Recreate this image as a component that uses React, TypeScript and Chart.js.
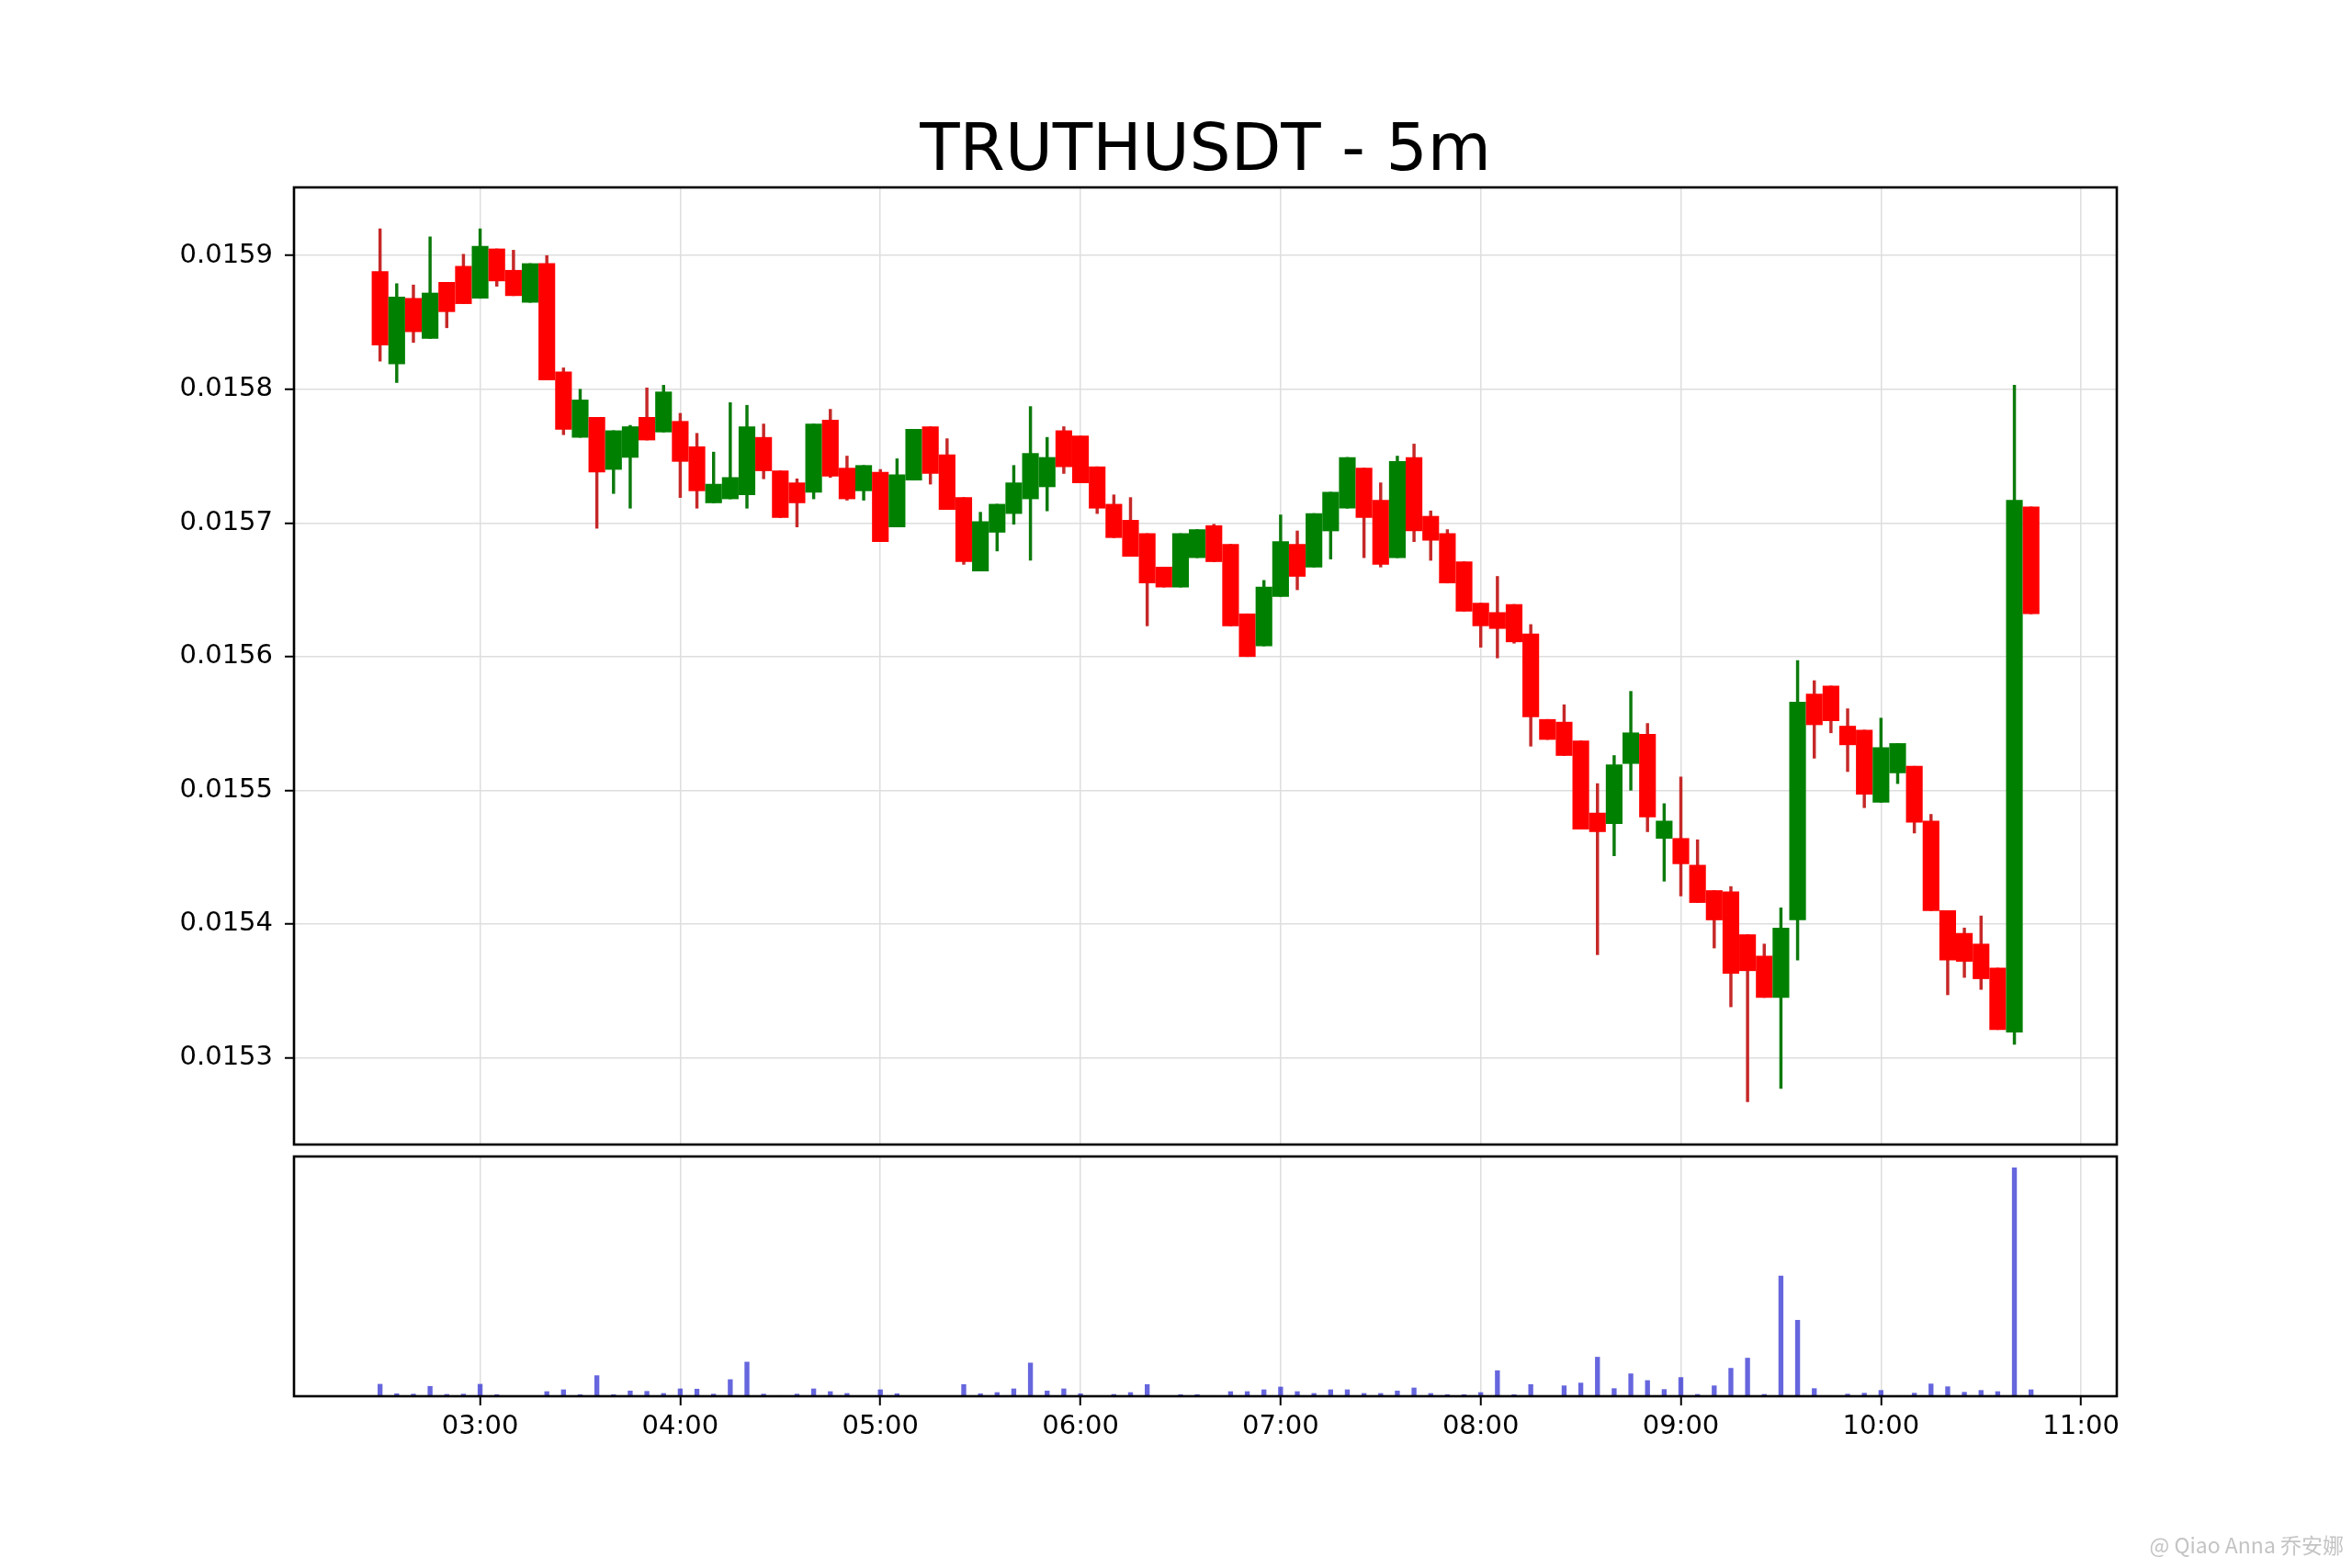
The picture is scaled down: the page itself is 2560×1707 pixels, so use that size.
import { useEffect, useRef } from "react";
import { Chart, Plugin, registerables } from "chart.js";

Chart.register(...registerables);

// 5m candles, 02:30 .. 10:45
const times = [
  "02:30", "02:35", "02:40", "02:45", "02:50", "02:55",
  "03:00", "03:05", "03:10", "03:15", "03:20", "03:25", "03:30", "03:35", "03:40", "03:45", "03:50", "03:55",
  "04:00", "04:05", "04:10", "04:15", "04:20", "04:25", "04:30", "04:35", "04:40", "04:45", "04:50", "04:55",
  "05:00", "05:05", "05:10", "05:15", "05:20", "05:25", "05:30", "05:35", "05:40", "05:45", "05:50", "05:55",
  "06:00", "06:05", "06:10", "06:15", "06:20", "06:25", "06:30", "06:35", "06:40", "06:45", "06:50", "06:55",
  "07:00", "07:05", "07:10", "07:15", "07:20", "07:25", "07:30", "07:35", "07:40", "07:45", "07:50", "07:55",
  "08:00", "08:05", "08:10", "08:15", "08:20", "08:25", "08:30", "08:35", "08:40", "08:45", "08:50", "08:55",
  "09:00", "09:05", "09:10", "09:15", "09:20", "09:25", "09:30", "09:35", "09:40", "09:45", "09:50", "09:55",
  "10:00", "10:05", "10:10", "10:15", "10:20", "10:25", "10:30", "10:35", "10:40", "10:45",
];

const opens = [
  0.015888, 0.015819, 0.015868, 0.015838, 0.01588, 0.015892, 0.015868, 0.015905, 0.015889, 0.015865,
  0.015894, 0.015813, 0.015764, 0.015779, 0.01574, 0.015749, 0.015779, 0.015768, 0.015776, 0.015757,
  0.015715, 0.015718, 0.015721, 0.015764, 0.015739, 0.01573, 0.015723, 0.015777, 0.015741, 0.015724,
  0.015738, 0.015697, 0.015732, 0.015772, 0.015751, 0.015719, 0.015664, 0.015693, 0.015707, 0.015718,
  0.015727, 0.015769, 0.015765, 0.015742, 0.015714, 0.015702, 0.015692, 0.015667, 0.015652, 0.015674,
  0.015698, 0.015684, 0.015632, 0.015608, 0.015645, 0.015684, 0.015667, 0.015694, 0.015711, 0.015741,
  0.015717, 0.015674, 0.015749, 0.015705, 0.015692, 0.015671, 0.01564, 0.015633, 0.015639, 0.015617,
  0.015553, 0.015551, 0.015537, 0.015483, 0.015475, 0.01552, 0.015542, 0.015464, 0.015464, 0.015444,
  0.015425, 0.015424, 0.015392, 0.015376, 0.015345, 0.015403, 0.015572, 0.015578, 0.015548, 0.015545,
  0.015491, 0.015513, 0.015518, 0.015477, 0.01541, 0.015393, 0.015385, 0.015367, 0.015319, 0.015712,
];
const highs = [
  0.01592, 0.015879, 0.015878, 0.015914, 0.01588, 0.015901, 0.01592, 0.015905, 0.015904, 0.015894,
  0.0159, 0.015816, 0.0158, 0.015779, 0.015769, 0.015773, 0.015801, 0.015803, 0.015782, 0.015767,
  0.015753, 0.01579, 0.015788, 0.015774, 0.015739, 0.015733, 0.015774, 0.015785, 0.01575, 0.015743,
  0.01574, 0.015748, 0.01577, 0.015772, 0.015763, 0.015719, 0.015708, 0.015714, 0.015743, 0.015787,
  0.015764, 0.015772, 0.015765, 0.015742, 0.015721, 0.015719, 0.015692, 0.015667, 0.015692, 0.015695,
  0.015699, 0.015684, 0.015632, 0.015657, 0.015706, 0.015694, 0.015707, 0.015723, 0.015749, 0.015741,
  0.01573, 0.01575, 0.015759, 0.015709, 0.015695, 0.015671, 0.01564, 0.01566, 0.015639, 0.015624,
  0.015553, 0.015564, 0.015537, 0.015505, 0.015526, 0.015574, 0.01555, 0.01549, 0.01551, 0.015463,
  0.015425, 0.015428, 0.015392, 0.015385, 0.015412, 0.015597, 0.015582, 0.015578, 0.015561, 0.015545,
  0.015554, 0.015535, 0.015518, 0.015482, 0.01541, 0.015397, 0.015406, 0.015367, 0.015803, 0.015712,
];
const lows = [
  0.015821, 0.015805, 0.015835, 0.015838, 0.015846, 0.015864, 0.015868, 0.015877, 0.01587, 0.015865,
  0.015807, 0.015766, 0.015764, 0.015696, 0.015722, 0.015711, 0.015762, 0.015768, 0.015719, 0.015711,
  0.015715, 0.015718, 0.015711, 0.015733, 0.015704, 0.015697, 0.015718, 0.015734, 0.015717, 0.015717,
  0.015686, 0.015697, 0.015732, 0.015729, 0.01571, 0.015669, 0.015664, 0.015679, 0.015699, 0.015672,
  0.015709, 0.015737, 0.01573, 0.015707, 0.015689, 0.015675, 0.015623, 0.015652, 0.015652, 0.015674,
  0.015671, 0.015623, 0.0156, 0.015608, 0.015645, 0.01565, 0.015667, 0.015673, 0.015711, 0.015674,
  0.015667, 0.015674, 0.015686, 0.015672, 0.015655, 0.015634, 0.015607, 0.015599, 0.01561, 0.015533,
  0.015538, 0.015526, 0.015471, 0.015377, 0.015451, 0.0155, 0.015469, 0.015432, 0.015421, 0.015416,
  0.015382, 0.015338, 0.015267, 0.015345, 0.015277, 0.015373, 0.015524, 0.015543, 0.015514, 0.015487,
  0.015491, 0.015505, 0.015468, 0.01541, 0.015347, 0.01536, 0.015351, 0.015321, 0.01531, 0.015632,
];
const closes = [
  0.015833, 0.015869, 0.015843, 0.015872, 0.015858, 0.015864, 0.015907, 0.015881, 0.01587, 0.015894,
  0.015807, 0.01577, 0.015792, 0.015738, 0.015769, 0.015772, 0.015762, 0.015798, 0.015746, 0.015724,
  0.015729, 0.015734, 0.015772, 0.015739, 0.015704, 0.015715, 0.015774, 0.015735, 0.015718, 0.015743,
  0.015686, 0.015736, 0.01577, 0.015737, 0.01571, 0.015671, 0.015701, 0.015714, 0.01573, 0.015752,
  0.015749, 0.015742, 0.01573, 0.015711, 0.015689, 0.015675, 0.015655, 0.015652, 0.015692, 0.015695,
  0.015671, 0.015623, 0.0156, 0.015652, 0.015686, 0.01566, 0.015707, 0.015723, 0.015749, 0.015704,
  0.015669, 0.015746, 0.015694, 0.015687, 0.015655, 0.015634, 0.015623, 0.015621, 0.015611, 0.015555,
  0.015538, 0.015526, 0.015471, 0.015469, 0.015519, 0.015543, 0.01548, 0.015477, 0.015445, 0.015416,
  0.015403, 0.015363, 0.015365, 0.015345, 0.015397, 0.015566, 0.015549, 0.015552, 0.015534, 0.015497,
  0.015532, 0.015535, 0.015476, 0.01541, 0.015373, 0.015372, 0.015359, 0.015321, 0.015717, 0.015632,
];
const volumes = [
  13000, 2700, 2300, 10700, 2000, 2300, 13000, 1700, 500, 500,
  5000, 7000, 1700, 22300, 1700, 5700, 5300, 3000, 8000, 7700,
  2300, 18000, 37000, 2300, 700, 2300, 8000, 5000, 3000, 500,
  7000, 2700, 500, 500, 500, 12700, 2700, 4000, 8000, 36000,
  5700, 8000, 2700, 500, 2000, 4000, 12700, 300, 1700, 1700,
  700, 5000, 5000, 7000, 10000, 5000, 3000, 7000, 7000, 3000,
  3000, 5700, 9000, 3000, 1700, 1700, 4000, 27700, 1700, 12700,
  500, 11300, 14300, 42300, 8300, 24300, 17000, 7300, 20300, 2000,
  11300, 30300, 41300, 2000, 130300, 82300, 8300, 700, 2300, 3300,
  6300, 700, 3300, 13300, 10300, 4300, 6300, 5000, 247300, 7000,
];

const hourTicks = ["03:00", "04:00", "05:00", "06:00", "07:00", "08:00", "09:00", "10:00", "11:00"];
const priceTicks = [0.0153, 0.0154, 0.0155, 0.0156, 0.0157, 0.0158, 0.0159];

const FONT = "'DejaVu Sans', sans-serif";
const GRID = "#dedede";
const UP = "#008000";
const DOWN = "#ff0000";
const UP_WICK = "#0c7a0c";
const DOWN_WICK = "#c62828";
const VOL = "rgba(0, 0, 200, 0.6)";

function toMinutes(t: string) {
  const [h, m] = t.split(":").map(Number);
  return h * 60 + m;
}

const xs = times.map(toMinutes);
const isUp = closes.map((c, i) => c >= opens[i]);

const frame: Plugin = {
  id: "frame",
  afterDraw(chart) {
    const { ctx, chartArea: a } = chart;
    ctx.save();
    ctx.strokeStyle = "#000";
    ctx.lineWidth = 2.6;
    ctx.strokeRect(a.left, a.top, a.right - a.left, a.bottom - a.top);
    ctx.restore();
  },
};

const watermark: Plugin = {
  id: "watermark",
  afterDraw(chart) {
    const { ctx } = chart;
    ctx.save();
    ctx.fillStyle = "#c4c4c4";
    ctx.font = "23px 'Noto Sans CJK SC', 'Noto Sans', sans-serif";
    ctx.textAlign = "right";
    ctx.textBaseline = "middle";
    ctx.fillText("@ Qiao Anna 乔安娜", 2551, 432);
    ctx.restore();
  },
};

function xScale(showLabels: boolean, height: number) {
  return {
    type: "linear" as const,
    min: 124.2,
    max: 670.7,
    offset: false,
    afterBuildTicks: (s: any) => {
      s.ticks = hourTicks.map((t) => ({ value: toMinutes(t) }));
    },
    afterFit: (s: any) => {
      s.height = height;
    },
    grid: {
      color: GRID,
      lineWidth: 1.5,
      offset: false,
      drawTicks: showLabels,
      tickColor: "#000",
      tickLength: 10,
      tickWidth: 2,
    },
    border: { display: false },
    ticks: {
      display: showLabels,
      autoSkip: false,
      maxRotation: 0,
      padding: 6,
      color: "#000",
      font: { family: FONT, size: 29 },
      callback: (v: any) => hourTicks.find((t) => toMinutes(t) === Number(v)) ?? "",
    },
  };
}

export default function App() {
  const priceRef = useRef<HTMLCanvasElement>(null);
  const volRef = useRef<HTMLCanvasElement>(null);

  useEffect(() => {
    if (!priceRef.current || !volRef.current) return;

    const price = new Chart(priceRef.current, {
      type: "bar",
      data: {
        datasets: [
          {
            label: "body",
            data: xs.map((x, i) => ({ x, y: [opens[i], closes[i]] })) as any,
            backgroundColor: isUp.map((u) => (u ? UP : DOWN)),
            barThickness: 17.5,
            minBarLength: 1.5,
            grouped: false,
            order: 0,
          },
          {
            label: "wick",
            data: xs.map((x, i) => ({ x, y: [lows[i], highs[i]] })) as any,
            backgroundColor: isUp.map((u) => (u ? UP_WICK : DOWN_WICK)),
            barThickness: 2.8,
            grouped: false,
            order: 1,
          },
        ],
      },
      options: {
        animation: false,
        responsive: false,
        events: [],
        layout: { padding: { left: 0, right: 256, top: 0, bottom: 0 } },
        plugins: {
          legend: { display: false },
          tooltip: { enabled: false },
          title: {
            display: true,
            fullSize: false,
            text: "TRUTHUSDT - 5m",
            color: "#000",
            font: { family: FONT, size: 71, weight: "normal", lineHeight: 74 / 71 },
            padding: { top: 130, bottom: 0 },
          },
        },
        scales: {
          // the price canvas runs 44px below the frame so the y labels' padding never pushes it up
          x: xScale(false, 44),
          y: {
            min: 0.015235,
            max: 0.015951,
            afterBuildTicks: (s: any) => {
              s.ticks = priceTicks.map((v) => ({ value: v }));
            },
            afterFit: (s: any) => {
              s.width = 320;
            },
            grid: { color: GRID, lineWidth: 1.5, tickColor: "#000", tickLength: 10, tickWidth: 2 },
            border: { display: false },
            ticks: {
              padding: 13,
              color: "#000",
              font: { family: FONT, size: 29 },
              callback: (v: any) => Number(v).toFixed(4),
            },
          },
        },
      },
      plugins: [frame],
    });

    const volume = new Chart(volRef.current, {
      type: "bar",
      data: {
        datasets: [
          {
            label: "volume",
            data: xs.map((x, i) => ({ x, y: volumes[i] })),
            backgroundColor: VOL,
            barThickness: 4.7,
            grouped: false,
          },
        ],
      },
      options: {
        animation: false,
        responsive: false,
        events: [],
        layout: { padding: { left: 0, right: 256, top: 9, bottom: 0 } },
        plugins: {
          legend: { display: false },
          tooltip: { enabled: false },
        },
        scales: {
          x: xScale(true, 187),
          y: {
            min: 0,
            max: Math.max(...volumes) * 1.05,
            afterFit: (s: any) => {
              s.width = 320;
            },
            grid: { display: false },
            border: { display: false },
            ticks: { display: false },
          },
        },
      },
      plugins: [frame, watermark],
    });

    return () => {
      price.destroy();
      volume.destroy();
    };
  }, []);

  return (
    <div style={{ position: "absolute", left: 0, top: 0, width: 2560, height: 1707, background: "#fff" }}>
      <canvas ref={volRef} width={2560} height={457} style={{ position: "absolute", left: 0, top: 1250 }} />
      <canvas ref={priceRef} width={2560} height={1290} style={{ position: "absolute", left: 0, top: 0 }} />
    </div>
  );
}
